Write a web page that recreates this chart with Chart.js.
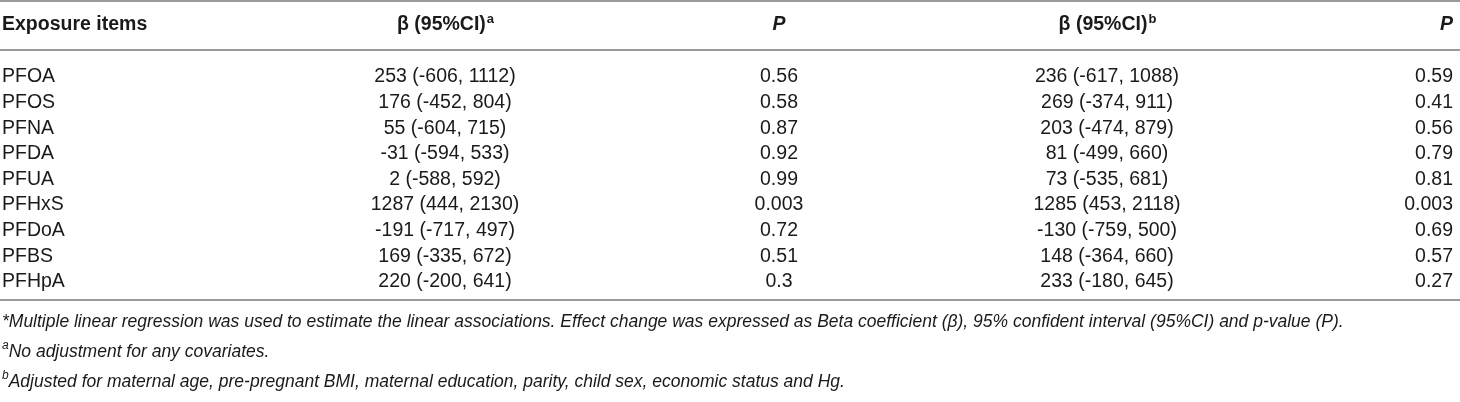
<!DOCTYPE html>
<html lang="en"><head>
<meta charset="UTF-8">
<title>Exposure items table</title>
<script src="https://cdn.jsdelivr.net/npm/chart.js"></script>
<style>
  body { margin: 0; background: #fff; }
  canvas { display: block; }
</style>
</head><body>
<canvas id="chart" width="1460" height="402"></canvas>
<script>
const items = ['PFOA', 'PFOS', 'PFNA', 'PFDA', 'PFUA', 'PFHxS', 'PFDoA', 'PFBS', 'PFHpA'];
const betaA = ['253 (-606, 1112)', '176 (-452, 804)', '55 (-604, 715)', '-31 (-594, 533)', '2 (-588, 592)',
               '1287 (444, 2130)', '-191 (-717, 497)', '169 (-335, 672)', '220 (-200, 641)'];
const pA = ['0.56', '0.58', '0.87', '0.92', '0.99', '0.003', '0.72', '0.51', '0.3'];
const betaB = ['236 (-617, 1088)', '269 (-374, 911)', '203 (-474, 879)', '81 (-499, 660)', '73 (-535, 681)',
               '1285 (453, 2118)', '-130 (-759, 500)', '148 (-364, 660)', '233 (-180, 645)'];
const pB = ['0.59', '0.41', '0.56', '0.79', '0.81', '0.003', '0.69', '0.57', '0.27'];
const headers = [['Exposure items', ''], ['β (95%CI)', 'a'], ['P', ''], ['β (95%CI)', 'b'], ['P', '']];
const notes = [
  ['', '*Multiple linear regression was used to estimate the linear associations. Effect change was expressed as Beta coefficient (β), 95% confident interval (95%CI) and p-value (P).'],
  ['a', 'No adjustment for any covariates.'],
  ['b', 'Adjusted for maternal age, pre-pregnant BMI, maternal education, parity, child sex, economic status and Hg.']
];

// column anchors (x) and alignment
const colX = [2, 445, 779, 1107, 1453];
const colAlign = ['left', 'center', 'center', 'center', 'right'];
const columns = [items, betaA, pA, betaB, pB];
const font = '"Liberation Sans", Arial, sans-serif';

const tablePlugin = {
  id: 'table',
  afterDraw(chart) {
    const c = chart.ctx, xs = chart.scales.x, ys = chart.scales.y;
    const rowY = i => ys.getPixelForValue(77 + i * 25.6);
    c.save();
    c.textBaseline = 'middle';
    c.fillStyle = '#1a1a1a';
    // rules
    c.strokeStyle = '#9a9a9a';
    c.lineWidth = 2;
    [1, 50, 300].forEach(v => {
      c.beginPath();
      c.moveTo(xs.getPixelForValue(0), ys.getPixelForValue(v));
      c.lineTo(xs.getPixelForValue(1460), ys.getPixelForValue(v));
      c.stroke();
    });
    // header
    headers.forEach((h, k) => {
      const hf = (k === 2 || k === 4 ? 'italic ' : '') + 'bold 19.5px ' + font;
      c.font = hf;
      const w = c.measureText(h[0]).width;
      c.font = 'bold 13px ' + font;
      const sw = h[1] ? c.measureText(h[1]).width : 0;
      let x0 = xs.getPixelForValue(colX[k]);
      if (colAlign[k] === 'center') x0 -= (w + sw) / 2;
      if (colAlign[k] === 'right') x0 -= w + sw;
      c.textAlign = 'left';
      c.font = hf;
      c.fillText(h[0], x0, ys.getPixelForValue(25));
      if (h[1]) {
        c.font = 'bold 13px ' + font;
        c.fillText(h[1], x0 + w + 1, ys.getPixelForValue(19));
      }
    });
    // body
    c.font = '19.5px ' + font;
    columns.forEach((col, k) => {
      c.textAlign = colAlign[k];
      col.forEach((t, i) => c.fillText(t, xs.getPixelForValue(colX[k]), rowY(i)));
    });
    // footnotes
    c.textAlign = 'left';
    notes.forEach((n, i) => {
      const y = ys.getPixelForValue(322 + i * 30);
      let x = xs.getPixelForValue(2);
      if (n[0]) {
        c.font = 'italic 12px ' + font;
        c.fillText(n[0], x, y - 6);
        x += c.measureText(n[0]).width;
      }
      c.font = 'italic 17.5px ' + font;
      c.fillText(n[1], x, y);
    });
    c.restore();
  }
};

new Chart(document.getElementById('chart'), {
  type: 'scatter',
  data: { datasets: [{ data: [], pointRadius: 0 }] },
  options: {
    responsive: false,
    animation: false,
    devicePixelRatio: 1,
    layout: { padding: 0 },
    plugins: { legend: { display: false }, tooltip: { enabled: false } },
    scales: {
      x: { type: 'linear', min: 0, max: 1460, display: false },
      y: { type: 'linear', min: 0, max: 402, reverse: true, display: false }
    }
  },
  plugins: [tablePlugin]
});
</script>
</body></html>
